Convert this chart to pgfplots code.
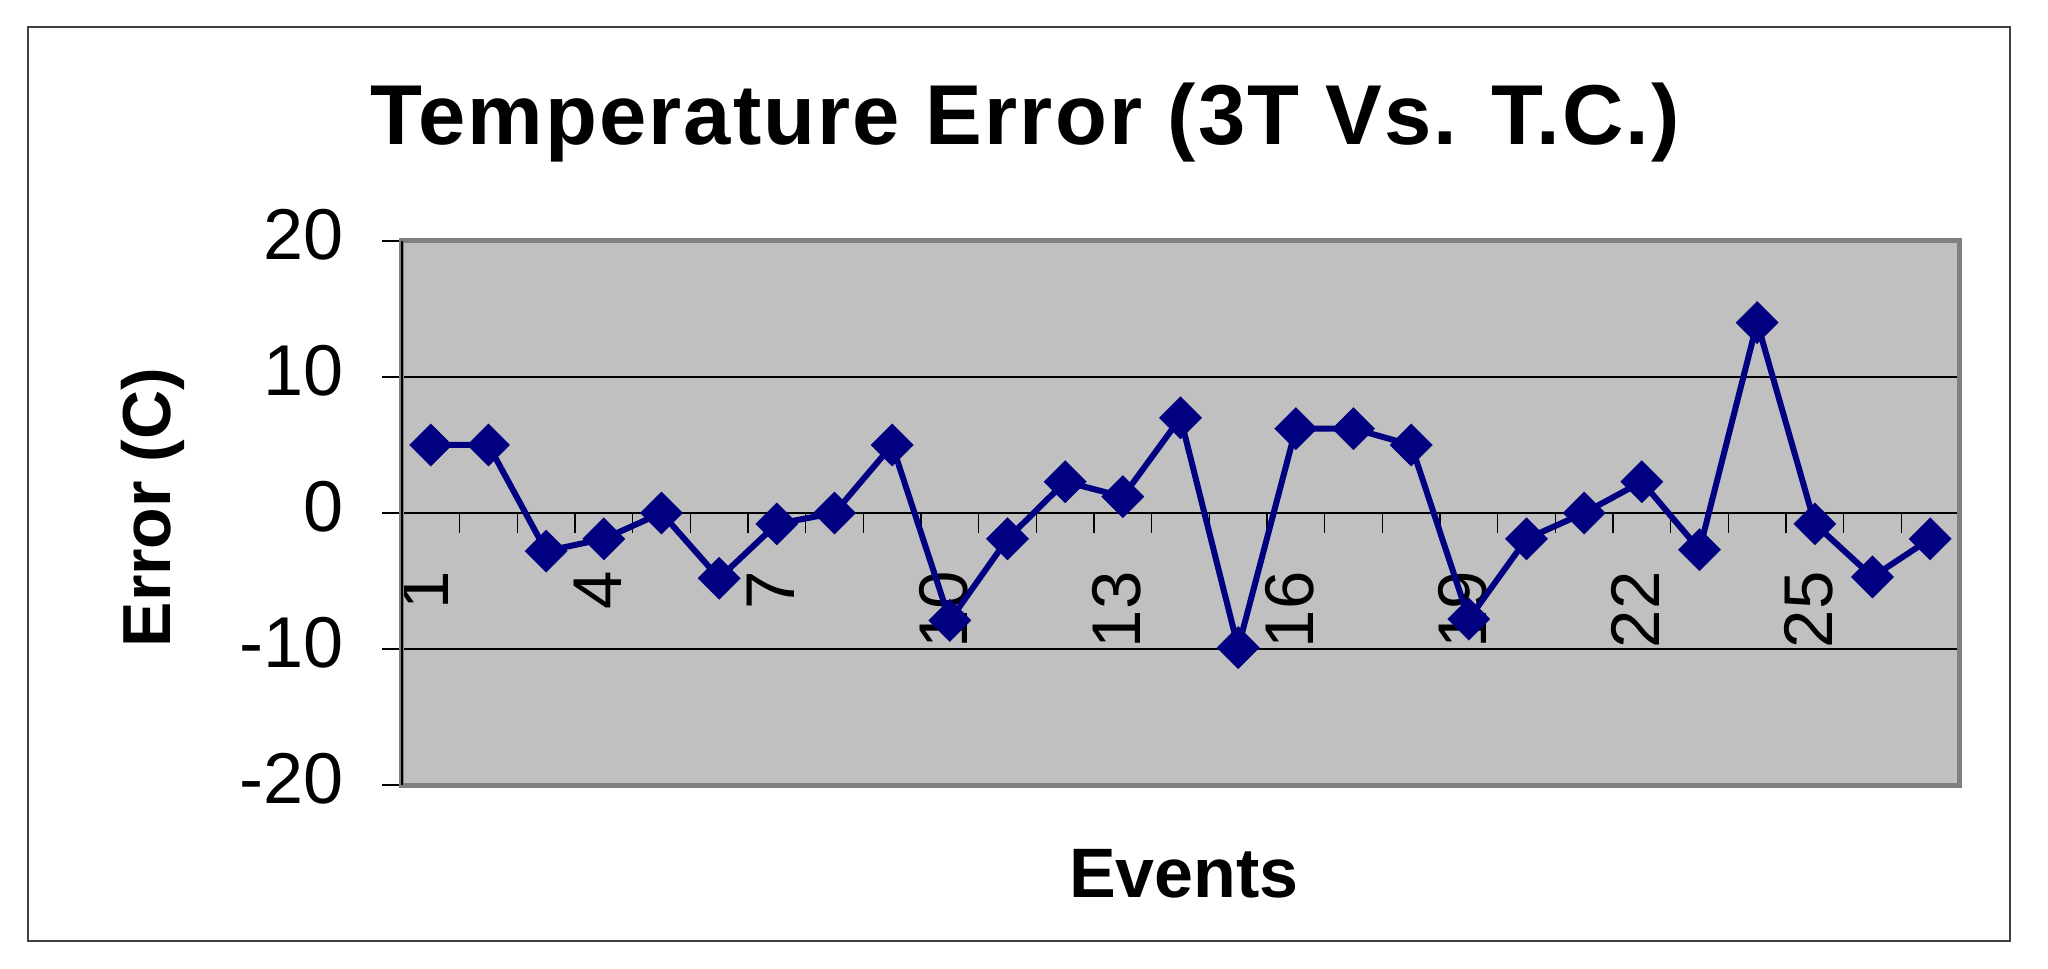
\documentclass[border=0pt]{standalone}
\usepackage{fontspec}
\setmainfont{Liberation Sans}
\newfontfamily\titlefam[LetterSpace=2.5]{Liberation Sans}
\usepackage{pgfplots}
\usepackage{pgfplotstable}
\pgfplotsset{compat=1.18}

\definecolor{plotgray}{HTML}{C0C0C0}
\definecolor{framegray}{HTML}{808080}
\definecolor{navy}{HTML}{000080}

% temperature error per event
\pgfplotstableread{
event err
1   5
2   5
3  -2.8
4  -1.9
5   0
6  -4.8
7  -0.8
8   0
9   5
10 -7.9
11 -1.9
12  2.3
13  1.2
14  7
15 -9.9
16  6.2
17  6.2
18  5
19 -7.8
20 -1.9
21  0
22  2.3
23 -2.7
24 14
25 -0.8
26 -4.7
27 -1.9
}\errtable

\begin{document}
\begin{tikzpicture}
\useasboundingbox (-201pt,-91.5pt) rectangle (823pt,392.5pt);
\begin{axis}[
    scale only axis,
    width=778.5pt, height=272pt,
    at={(0pt,0pt)}, anchor=south west,
    xmin=0.5, xmax=27.5,
    ymin=-20, ymax=20,
    axis x line=middle, axis y line=left,
    hide obscured x ticks=false, hide obscured y ticks=false,
    axis line style={-},
    x axis line style={black, line width=0.6pt},
    y axis line style={black, line width=1.2pt},
    axis background/.style={fill=plotgray},
    xtick={1,4,...,25},
    xticklabels={1,4,7,10,13,16,19,22,25},
    minor xtick={1.5,2.5,...,27.5},
    ytick={-20,-10,0,10,20},
    yticklabels={-20,-10,0,10,20},
    ymajorgrids,
    grid style={black, line width=0.6pt},
    tick style={black, line width=0.6pt},
    major x tick style={draw=none},
    major tick length=10pt, minor tick length=10pt,
    tick align=outside,
    xticklabel style={rotate=90, anchor=east, inner sep=0pt,
        xshift=-19pt, yshift=3pt,
        font=\fontsize{34.5}{34.5}\selectfont},
    yticklabel style={anchor=east, inner sep=0pt,
        xshift=-19pt, yshift=3pt,
        font=\fontsize{36}{36}\selectfont},
    xlabel={Events},
    ylabel={Error (C)},
    every axis x label/.style={at={(axis description cs:0.5,0)}, anchor=base,
        yshift=-56pt, xshift=1.75pt,
        font=\bfseries\fontsize{35}{35}\selectfont},
    every axis y label/.style={at={(axis description cs:0,0.5)}, rotate=90,
        anchor=center, xshift=2.75pt, yshift=124.5pt,
        font=\bfseries\fontsize{34}{34}\selectfont},
    after end axis/.code={
        \draw[framegray, line width=2.5pt]
            (rel axis cs:0,0) rectangle (rel axis cs:1,1);
        \draw[black, line width=1.2pt]
            (rel axis cs:0,0) -- (rel axis cs:0,1);
    },
]
\addplot[navy, line width=3pt, mark=square*, mark size=7.5pt,
    mark options={rotate=45, solid, fill=navy, draw=navy, line width=0.1pt}]
    table[x=event, y=err] {\errtable};
\end{axis}
\draw[black!75, line width=0.75pt] (-187pt,-78pt) rectangle (804pt,379pt);
\node[anchor=base, font=\titlefam\bfseries\fontsize{42.5}{42.5}\selectfont]
    at (311.5pt,320pt) {Temperature Error (3T Vs. T.C.)};
\end{tikzpicture}
\end{document}
